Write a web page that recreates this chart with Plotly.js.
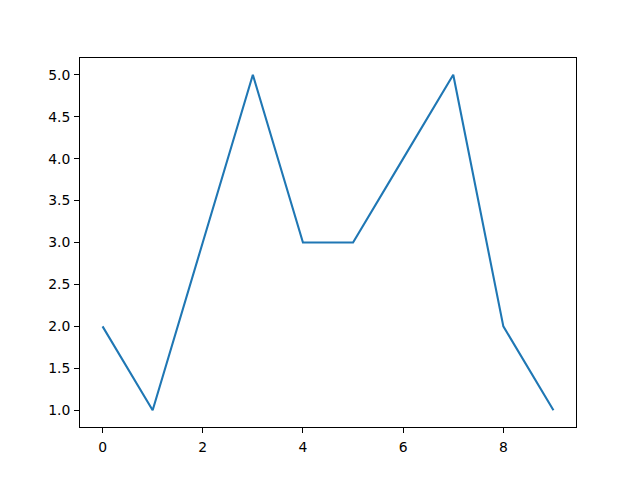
<!DOCTYPE html>
<html>
<head>
<meta charset="utf-8">
<script src="https://cdn.plot.ly/plotly-3.0.1.min.js"></script>
<style>html,body{margin:0;padding:0;background:#fff;}#chart{width:640px;height:480px;}</style>
</head>
<body>
<div id="chart"></div>
<script>
const xValues = [0, 1, 2, 3, 4, 5, 6, 7, 8, 9];
const yValues = [2, 1, 3, 5, 3, 3, 4, 5, 2, 1];

const trace = {
  x: xValues,
  y: yValues,
  type: 'scatter',
  mode: 'lines',
  line: {color: '#1f77b4', width: 2.1},
  hoverinfo: 'none'
};

const axisCommon = {
  showgrid: false,
  zeroline: false,
  showline: true,
  linecolor: '#000',
  linewidth: 1,
  mirror: true,
  ticks: 'outside',
  ticklen: 5,
  tickwidth: 1,
  tickcolor: '#000',
  tickfont: {family: 'DejaVu Sans', size: 13.9, color: '#000'}
};

const layout = {
  width: 640,
  height: 480,
  margin: {l: 80, r: 64, t: 58, b: 53},
  paper_bgcolor: '#fff',
  plot_bgcolor: '#fff',
  showlegend: false,
  xaxis: Object.assign({}, axisCommon, {range: [-0.45, 9.45], tick0: 0, dtick: 2, ticklabelstandoff: 2}),
  yaxis: Object.assign({}, axisCommon, {range: [0.8, 5.2], tick0: 1, dtick: 0.5, tickformat: '.1f', ticklabelstandoff: 1})
};

Plotly.newPlot('chart', [trace], layout, {displayModeBar: false, staticPlot: true});
</script>
</body>
</html>
